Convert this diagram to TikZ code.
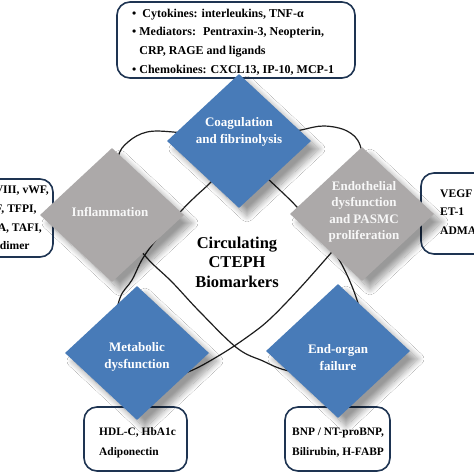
\documentclass[tikz,border=0pt]{standalone}
\usepackage{fontspec}
\setmainfont{Liberation Serif}
\usetikzlibrary{shapes.geometric,shadows.blur}
\definecolor{dblue}{RGB}{72,123,184}
\definecolor{dgray}{RGB}{172,169,169}
\definecolor{navy}{RGB}{30,52,82}
\definecolor{loopc}{RGB}{30,30,30}
\tikzset{
  dshape/.style={diamond, minimum width=144pt, minimum height=134pt, inner sep=0pt,
    blur shadow={shadow xshift=8pt, shadow yshift=-8pt, shadow blur steps=14, shadow blur radius=6pt, shadow opacity=40}},
  bluedia/.style={dshape, fill=dblue},
  graydia/.style={dshape, fill=dgray},
  dtext/.style={text=white, align=center, font=\bfseries\fontsize{13pt}{17pt}\selectfont},
  infobox/.style={draw=navy, line width=1.6pt, rounded corners=13pt, fill=white},
  boxtext/.style={align=left, anchor=west, inner sep=0pt, font=\bfseries\fontsize{11.6pt}{18.8pt}\selectfont},
  loopline/.style={draw=loopc, line width=1.2pt},
}
\begin{document}
\begin{tikzpicture}[x=1pt,y=-1pt]
\useasboundingbox (0,0) rectangle (474,474);
\fill[white] (0,0) rectangle (474,474);
\clip (0,0) rectangle (474,474);

% loops
\draw[loopline] plot[smooth cycle, tension=0.6] coordinates {
 (118,158) (128,142) (147,132) (173,132) (205,137) (240,153) (267,178) (297,207)
 (322,237) (341,263) (357,300) (362,330) (345,360) (315,374) (285,370) (263,361)
 (237,348) (200,312) (172,282) (147,258) (128,232) (118,195)};
\draw[loopline] plot[smooth cycle, tension=0.6] coordinates {
 (301,130) (324,126) (347,131) (360,145) (363,175) (358,210) (345,237) (331,253)
 (300,288) (271,318) (250,335) (220,355) (188,372) (160,378) (128,362) (115,330)
 (120,298) (132,280) (143,258) (160,235) (182,210) (196,196) (210,183) (239,153)
 (270,137)};

% boxes
\draw[infobox] (117,2) rectangle (355,78);
\node[boxtext, font=\bfseries\fontsize{12pt}{18.7pt}\selectfont] (topt) at (132,42)
 {•\ \ Cytokines: interleukins, TNF-α\\
  • Mediators: \ Pentraxin-3, Neopterin,\\
  \phantom{• }CRP, RAGE and ligands\\
  • Chemokines: CXCL13, IP-10, MCP-1};

\draw[infobox] (-60,179) rectangle (53,257);
\node[boxtext] (leftt) at (-12.5,218) {FVIII, vWF,\\TF, TFPI,\\tPA, TAFI,\\D-dimer};

\draw[infobox] (421,173) rectangle (540,254);
\node[boxtext] (rightt) at (440,212) {VEGF\\ET-1\\ADMA};

\draw[infobox] (84,407) rectangle (187,471);
\node[boxtext, font=\bfseries\fontsize{11.4pt}{20pt}\selectfont] (blt) at (99,443) {HDL-C, HbA1c\\Adiponectin};

\draw[infobox] (285,407) rectangle (390,471);
\node[boxtext, font=\bfseries\fontsize{11.4pt}{20pt}\selectfont] (brt) at (292,443) {BNP / NT-proBNP,\\Bilirubin, H-FABP};

% diamonds
\node[bluedia] (coag) at (239,141) {};
\node[graydia] (inflam) at (112,215) {};
\node[graydia] (endo) at (362,214) {};
\node[bluedia] (metab) at (137,353) {};
\node[bluedia] (organ) at (338,351) {};

\node[dtext] (coagt) at (239,132) {Coagulation\\and fibrinolysis};
\node[dtext, text=white!94!gray] (inflamt) at (110,212) {Inflammation};
\node[dtext, text=white!94!gray, font=\bfseries\fontsize{13pt}{16.5pt}\selectfont] (endot) at (364,212)
 {Endothelial\\dysfunction\\and PASMC\\proliferation};
\node[dtext, font=\bfseries\fontsize{13pt}{17.5pt}\selectfont] (metabt) at (137,357) {Metabolic\\dysfunction};
\node[dtext, font=\bfseries\fontsize{13pt}{17.5pt}\selectfont] (organt) at (338,357.5) {End-organ\\failure};

\node[align=center, font=\bfseries\fontsize{16.5pt}{19.5pt}\selectfont] (center) at (237,262)
 {Circulating\\CTEPH\\Biomarkers};
\end{tikzpicture}
\end{document}
